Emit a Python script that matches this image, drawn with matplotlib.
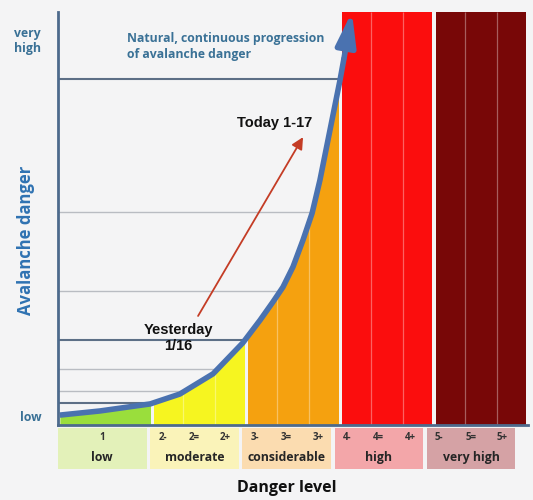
import numpy as np
import matplotlib
matplotlib.use("Agg")
import matplotlib.pyplot as plt
from matplotlib.patches import Rectangle

# danger levels and their sub levels
levels = ['low', 'moderate', 'considerable', 'high', 'very high']
sublevels = [['1'], ['2-', '2=', '2+'], ['3-', '3=', '3+'], ['4-', '4=', '4+'], ['5-', '5=', '5+']]
block_colors = ['#9ade3c', '#f6f520', '#f5a10f', '#fb0d0d', '#780707']
band_colors = ['#e3f1b9', '#faf3b9', '#fbdcb0', '#f3a6a9', '#d5a2a5']
full_height = [False, False, False, True, True]

# progression curve, x in sub-level units (3 per level), y in danger 0..100
curve_x = [0.06, 1.34, 2.94, 3.89, 4.95, 5.90, 6.45, 6.86, 7.18, 7.50, 7.82, 8.11,
           8.36, 8.68, 9.00, 9.13]
curve_y = [2.4, 3.4, 5.1, 7.5, 12.4, 19.9, 25.4, 29.8, 33.4, 38.3, 44.8, 51.3,
           59.3, 71.4, 83.5, 88.9]
curve_tip = (9.38, 100.0)

# horizontal helper lines
grid_y = [83.8, 51.6, 32.4, 20.6, 13.6, 8.2, 5.3]
grid_dark = [True, False, False, True, False, False, True]

yesterday = (4.47, 26.4)
today = (7.82, 69.7)

blue = '#4a72b0'
text_blue = '#3a7196'
bg = '#f4f4f5'

fig = plt.figure(figsize=(5.33, 5.0), dpi=100, facecolor=bg)
ax = fig.add_axes([58 / 533, 75 / 500, 470 / 533, 413 / 500])
ax.set_facecolor(bg)
ax.set_xlim(0, 15)
ax.set_ylim(0, 100)

for y, dark in zip(grid_y, grid_dark):
    xe = np.interp(y, curve_y, curve_x)
    ax.hlines(y, 0, xe, color='#5d6f86' if dark else '#b9bcc2',
              lw=1.5 if dark else 1.0, zorder=1)

gap = 0.12
for i, (col, full) in enumerate(zip(block_colors, full_height)):
    x0 = 3 * i + (0 if i == 0 else gap / 2)
    w = 3 - gap / 2 - (0 if i == 0 else gap / 2)
    if full:
        ax.bar(x0, 100, width=w, align='edge', color=col, zorder=2)
    else:
        poly = ax.fill_between(curve_x, 0, curve_y, color=col, lw=0, zorder=2)
        poly.set_clip_path(Rectangle((x0, 0), w, 100, transform=ax.transData))
    if i > 0:
        for k in (1, 2):
            xd = 3 * i + k
            top = 100 if full else np.interp(xd, curve_x, curve_y)
            ax.vlines(xd, 0, top, color='white', alpha=0.35, lw=0.9, zorder=3)

ax.plot(curve_x, curve_y, color=blue, lw=4, solid_capstyle='butt',
        solid_joinstyle='round', zorder=5)
ax.annotate('', xy=curve_tip, xytext=(curve_x[-1], curve_y[-1]),
            arrowprops=dict(arrowstyle='-|>,head_length=1.0,head_width=0.3',
                            mutation_scale=20, color=blue, lw=4, shrinkA=0, shrinkB=0),
            annotation_clip=False, zorder=6)

ax.annotate('', xy=today, xytext=yesterday,
            arrowprops=dict(arrowstyle='-|>,head_length=0.5,head_width=0.25',
                            mutation_scale=14, color='#c43c25', lw=1.3,
                            shrinkA=0, shrinkB=0), zorder=6)
ax.text(6.9, 73.1, 'Today 1-17', ha='center', va='center', fontsize=10.5,
        fontweight='bold', family='Liberation Sans', color='#111111', zorder=7)
ax.text(3.83, 21.1, 'Yesterday\n1/16', ha='center', va='center', fontsize=10.5,
        fontweight='bold', family='Liberation Sans', color='#111111',
        linespacing=1.15, zorder=7)
ax.text(2.2, 91.6, 'Natural, continuous progression\nof avalanche danger', ha='left',
        va='center', fontsize=8.8, fontweight='bold', family='Open Sans',
        color=text_blue, linespacing=1.3, zorder=7)

for side in ('top', 'right'):
    ax.spines[side].set_visible(False)
for side in ('left', 'bottom'):
    ax.spines[side].set_color('#4d6a8c')
    ax.spines[side].set_linewidth(2)
    ax.spines[side].set_zorder(8)
ax.set_xticks([])
ax.set_yticks([2.2, 93.7], ['low', 'very\nhigh'])
ax.tick_params(axis='y', length=0, pad=12, labelcolor=text_blue)
for lab in ax.get_yticklabels():
    lab.set_fontfamily('Open Sans')
    lab.set_fontweight('bold')
    lab.set_fontsize(8.8)
    lab.set_multialignment('center')
ax.set_ylabel('Avalanche danger', fontsize=12, fontweight='bold', family='Open Sans',
              color='#2f72b2')
ax.yaxis.set_label_coords(-0.049, 0.448)

# level bands under the chart
bx = fig.add_axes([58 / 533, 31 / 500, 461 / 533, 41 / 500])
bx.set_xlim(0, 15)
bx.set_ylim(0, 1)
bx.axis('off')
for i, (name, subs, col) in enumerate(zip(levels, sublevels, band_colors)):
    bx.bar(3 * i, 1, width=2.88, align='edge', color=col)
    bx.text(3 * i + 1.44, 0.29, name, ha='center', va='center', fontsize=8.8,
            fontweight='bold', family='Open Sans', color='#262626')
    offs = [1.44] if len(subs) == 1 else [0.4, 1.44, 2.45]
    for s, o in zip(subs, offs):
        bx.text(3 * i + o, 0.78, s, ha='center', va='center', fontsize=7,
                fontweight='bold', family='Open Sans', color='#333333')

fig.text(287 / 533, 1 - 488 / 500, 'Danger level', ha='center', va='center',
         fontsize=11.5, fontweight='bold', family='Open Sans', color='#111111')

fig.savefig('out.png', dpi=100, facecolor=bg)
